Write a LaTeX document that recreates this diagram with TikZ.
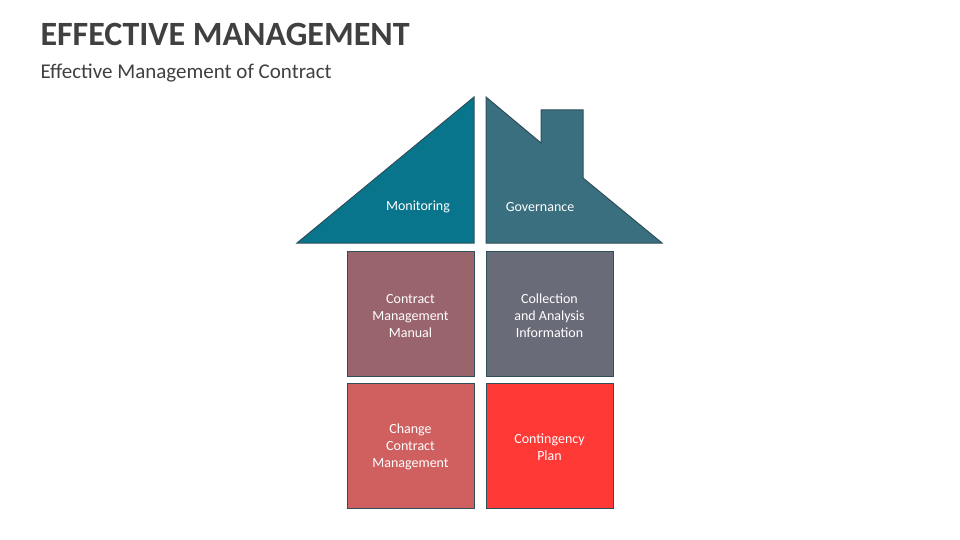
\documentclass[tikz,border=0pt]{standalone}
\usepackage{fontspec}
\setmainfont{Carlito}
\begin{document}
\begin{tikzpicture}[x=1pt,y=-1pt]
\useasboundingbox (0,0) rectangle (960,540);
\definecolor{cA}{HTML}{08758C}
\definecolor{cB}{HTML}{3A6F80}
\definecolor{cC}{HTML}{9A646C}
\definecolor{cD}{HTML}{6A6B78}
\definecolor{cE}{HTML}{D06060}
\definecolor{cF}{HTML}{FF3935}
\definecolor{edge}{HTML}{2F4F5A}
\tikzset{part/.style={draw=edge,line width=1pt},
 lbl/.style={text=white,font=\fontsize{14}{17}\selectfont,align=center}}
\node[anchor=west,font=\fontsize{34}{40}\selectfont\bfseries,text=black!75] (title) at (37,34) {EFFECTIVE MANAGEMENT};
\node[anchor=west,font=\fontsize{21}{25}\selectfont,text=black!75] (sub) at (37,73) {Effective Management of Contract};
\fill[part,fill=cA] (297,243) -- (474,97) -- (474,243) -- cycle;
\fill[part,fill=cB] (486,97) -- (541,143) -- (541,110) -- (583,110) -- (583,178) -- (662,243) -- (486,243) -- cycle;
\fill[part,fill=cC] (347,251) rectangle (474,376);
\fill[part,fill=cD] (486,251) rectangle (613,376);
\fill[part,fill=cE] (347,383) rectangle (474,508);
\fill[part,fill=cF] (486,383) rectangle (613,508);
\node[lbl] (m) at (418,207) {Monitoring};
\node[lbl] (g) at (540,207) {Governance};
\node[lbl] (c1) at (410.5,316) {Contract\\Management\\Manual};
\node[lbl] (c2) at (549.5,316) {Collection\\and Analysis\\Information};
\node[lbl] (c3) at (410.5,447) {Change\\Contract\\Management};
\node[lbl] (c4) at (549.5,447) {Contingency\\Plan};
\end{tikzpicture}
\end{document}
